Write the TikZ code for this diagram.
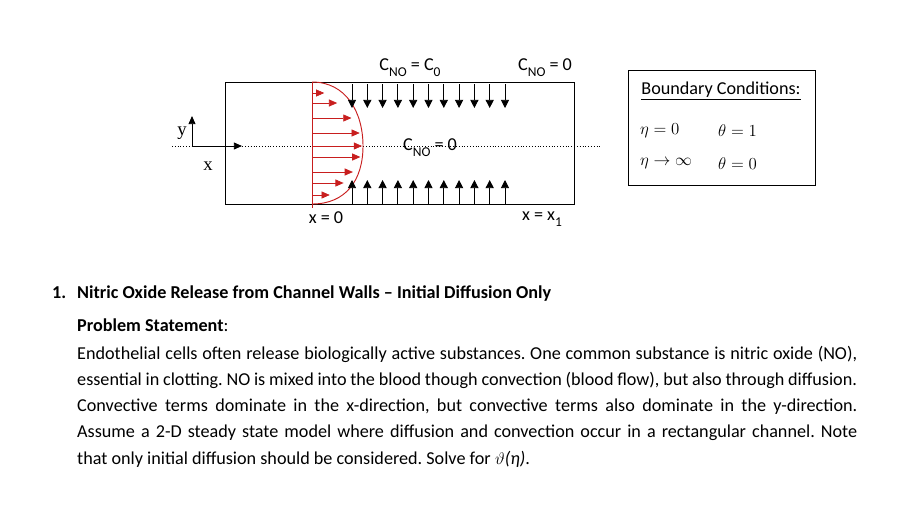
\documentclass[tikz,border=0pt]{standalone}
\usepackage{fontspec}
\setmainfont{Carlito}
\newfontfamily\axisfont{Liberation Serif}
\usepackage{amsmath}
\usepackage{xcolor}
\usetikzlibrary{arrows.meta,positioning}
\definecolor{flowred}{RGB}{200,30,30}
\newcommand{\lsub}[1]{\raisebox{-0.7ex}{\fontsize{11.5}{12}\selectfont #1}}
\begin{document}
\frenchspacing
\hyphenpenalty=10000
\exhyphenpenalty=10000
\begin{tikzpicture}[x=0.03cm,y=-0.03cm,>=Triangle]
\tikzstyle{lbl}=[inner sep=0pt,font=\fontsize{15.5}{17}\selectfont]
\tikzstyle{bc}=[inner sep=0pt,anchor=west,font=\fontsize{15}{17}\selectfont]
\tikzstyle{flux}=[->,black,line width=0.8pt,>={Triangle[length=7pt,width=7pt]}]
\tikzstyle{vel}=[->,flowred,line width=0.6pt,>={Triangle[length=7pt,width=6pt]}]
\useasboundingbox (0,0) rectangle (913,518);

% --- channel ---
\node[draw,line width=0.7pt,minimum width=349*0.03cm,minimum height=122*0.03cm,inner sep=0pt]
  (chan) at (399.5,143) {};
\coordinate (axo) at (192,146);
\draw[dotted] (172,146) coordinate (cl0) -- (600,146) coordinate (cl1);
\draw[->,line width=0.8pt,>={Triangle[length=7pt,width=6pt]}] (axo) -- (192,116) coordinate (ytip);
\draw[->,line width=0.8pt,>={Triangle[length=7pt,width=6pt]}] (axo) -- (242,146) coordinate (xtip);
\node[lbl,font=\fontsize{16}{16}\axisfont] (ylab) at (182,133) {y};
\node[lbl,font=\fontsize{16}{16}\axisfont] (xlab) at (208,166) {x};

% --- velocity profile ---
\draw[flowred,line width=0.8pt] (312,82) -- (312,208);
\draw[flowred,line width=0.8pt] (312,82) .. controls (346,82) and (363,112) .. (363,146)
  .. controls (363,180) and (346,204) .. (312,204);
\foreach \yy in {93,103,118,133,146,157,172,183,195}
  \draw[vel] (312,\yy) -- ({312+50*(1-((\yy-146)/61)^2)},\yy);

% --- wall fluxes ---
\foreach \i in {0,...,10} {
  \draw[flux] ({352+15.3*\i},84) -- ({352+15.3*\i},108);
  \draw[flux] ({352+15.3*\i},204) -- ({352+15.3*\i},180);
}

% --- labels ---
\node[lbl] (ctop) at (410,68) {C\lsub{NO} = C\lsub{0}};
\node[lbl] (cout) at (545,68) {C\lsub{NO} = 0};
\node[lbl] (cmid) at (430,148) {C\lsub{NO} = 0};
\node[lbl] (xzero) at (326,218) {x = 0};
\node[lbl] (xone) at (542,219) {x = x\lsub{1}};

% --- boundary conditions ---
\node[draw,line width=0.7pt,minimum width=187*0.03cm,minimum height=115*0.03cm,inner sep=0pt]
  (bcbox) at (721.5,127.5) {};
\node[lbl] (bctitle) at (721,91) {\underline{Boundary Conditions:}};
\node[bc] (bc1a) at (640,131) {$\eta = 0$};
\node[bc] (bc1b) at (718,131) {$\theta = 1$};
\node[bc] (bc2a) at (640,164) {$\eta \to \infty$};
\node[bc] (bc2b) at (718,164) {$\theta = 0$};

% --- problem text ---
\node[anchor=base west,inner sep=0pt,font=\fontsize{15.5}{17}\selectfont\bfseries] (num) at (52,298) {1.};
\node[anchor=base west,inner sep=0pt,font=\fontsize{15.5}{17}\selectfont\bfseries] (head) at (77,298)
  {Nitric Oxide Release from Channel Walls – Initial Diffusion Only};
\node[anchor=base west,inner sep=0pt,font=\fontsize{15.5}{17}\selectfont] (ps) at (77,331)
  {\textbf{Problem Statement}:};
\node[anchor=north west,inner sep=0pt,text width=780*0.03cm,align=justify,
  font=\fontsize{15.5}{22.3}\selectfont] (body) at (77,346)
  {Endothelial cells often release biologically active substances. One common substance is nitric oxide (NO), essential in clotting. NO is mixed into the blood though convection (blood flow), but also through diffusion. Convective terms dominate in the x-direction, but convective terms also dominate in the y-direction. Assume a 2-D steady state model where diffusion and convection occur in a rectangular channel. Note that only initial diffusion should be considered. Solve for \textit{$\vartheta$(η)}.};
\end{tikzpicture}
\end{document}
